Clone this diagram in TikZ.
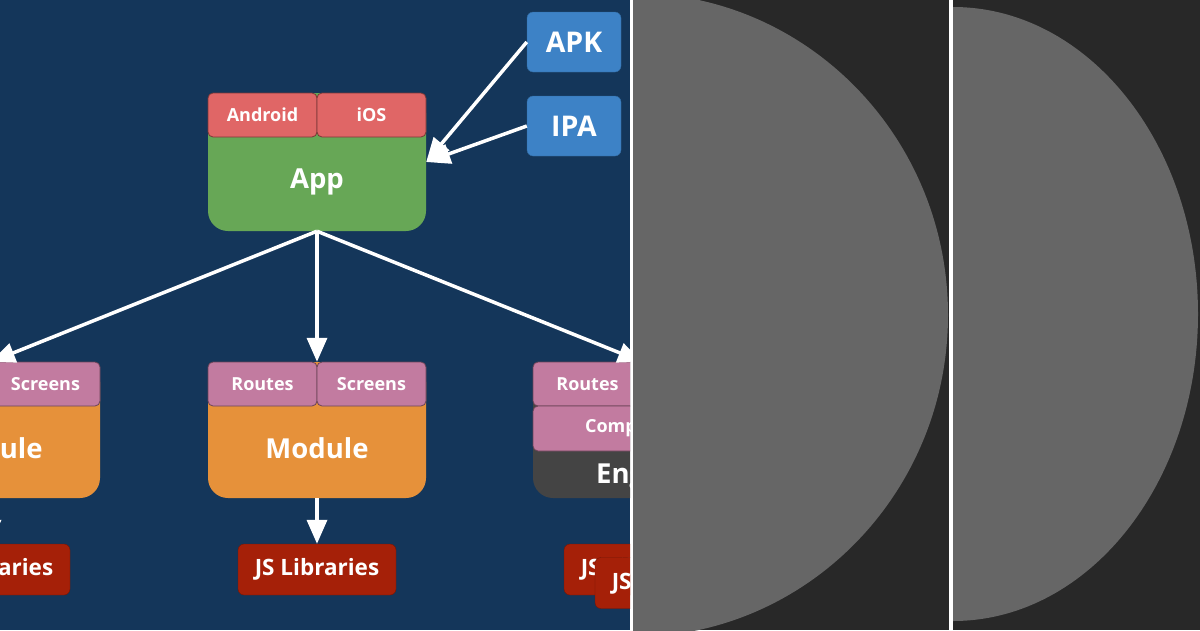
\documentclass[tikz,border=0pt]{standalone}
\usepackage{fontspec}
\setmainfont{Open Sans}
\usepackage{tikz}
\usetikzlibrary{arrows.meta}

\definecolor{navy}{HTML}{14365A}
\definecolor{appgreen}{HTML}{67A756}
\definecolor{tabred}{HTML}{E06666}
\definecolor{tabpink}{HTML}{C27BA0}
\definecolor{modorange}{HTML}{E6913A}
\definecolor{jsred}{HTML}{A52008}
\definecolor{pkgblue}{HTML}{3D82C6}
\definecolor{enginegray}{HTML}{444444}
\definecolor{panelgray}{HTML}{282828}
\definecolor{discgray}{HTML}{666666}

\begin{document}
\begin{tikzpicture}[x=1pt,y=-1pt,
  tab/.style={draw=#1!55!black, fill=#1, line width=0.8pt, rounded corners=5pt, minimum width=109pt, minimum height=44pt, inner sep=0pt, text=white, font=\fontsize{18}{21}\selectfont\bfseries},
  body/.style={fill=#1, rounded corners=20pt, minimum width=218pt, minimum height=136pt, inner sep=0pt},
  big/.style={text=white, font=\fontsize{27.5}{32}\selectfont\bfseries},
  pkg/.style={fill=pkgblue, draw=pkgblue!80!black, rounded corners=6pt, minimum width=94pt, minimum height=60pt, inner sep=0pt, text=white, font=\fontsize{28.5}{33}\selectfont\bfseries},
  lib/.style={fill=jsred, draw=jsred!70!black, rounded corners=6pt, minimum width=158pt, minimum height=51pt, inner sep=0pt, text=white, font=\fontsize{22.5}{26}\selectfont\bfseries},
  link/.style={draw=white, line width=3.5pt, -{Triangle[length=24pt,width=20pt]}}]
\useasboundingbox (0,0) rectangle (1200,630);
\fill[navy] (0,0) rectangle (630,630);
\fill[white] (630,0) rectangle (633,630);
\fill[panelgray] (633,0) rectangle (949,630);
\fill[white] (949,0) rectangle (953,630);
\fill[panelgray] (953,0) rectangle (1200,630);
\begin{scope}
\clip (633,0) rectangle (949,630);
\fill[discgray] (633,315) ellipse [x radius=315pt, y radius=322pt];
\end{scope}
\begin{scope}
\clip (953,0) rectangle (1200,630);
\fill[discgray] (953,314) ellipse [x radius=245pt, y radius=307pt];
\end{scope}

\begin{scope}
\clip (0,0) rectangle (630,630);
\node[body=appgreen, minimum height=138pt] (app) at (317,162) {};
\node[tab=tabred] (android) at (262.5,115) {Android};
\node[tab=tabred] (ios) at (371.5,115) {iOS};
\node[big] (apptext) at (317,182) {App};

\node[pkg] (apk) at (574,42) {APK};
\node[pkg] (ipa) at (574,126) {IPA};

\node[body=modorange] (modL) at (-9,430) {};
\node[tab=tabpink] (routesL) at (-63.5,384) {Routes};
\node[tab=tabpink] (screensL) at (45.5,384) {Screens};
\node[big] (modLtext) at (-9,448) {Module};
\node[lib] (libL) at (-9,569.5) {JS Libraries};

\node[body=modorange] (modM) at (317,430) {};
\node[tab=tabpink] (routesM) at (262.5,384) {Routes};
\node[tab=tabpink] (screensM) at (371.5,384) {Screens};
\node[big] (modMtext) at (317,448) {Module};
\node[lib] (libM) at (317,569.5) {JS Libraries};

\node[body=enginegray] (modR) at (642,430) {};
\node[tab=tabpink] (routesR) at (587.5,384) {Routes};
\node[tab=tabpink, minimum width=218pt, minimum height=45pt] (compR) at (642,428.5) {Components};
\node[big] (modRtext) at (642,476) {Engine};
\node[lib] (libR) at (643,569.5) {JS Libraries};
\node[lib] (libR2) at (674,583) {JS Libraries};

\draw[link] (apk.west) -- (app.east);
\draw[link] (ipa.west) -- (app.east);
\draw[link] (app.south) -- (modL.north);
\draw[link] (app.south) -- (modM.north);
\draw[link] (app.south) -- (modR.north);
\draw[link] (modL.south) -- (libL.north);
\draw[link] (modM.south) -- (libM.north);
\end{scope}
\end{tikzpicture}
\end{document}
